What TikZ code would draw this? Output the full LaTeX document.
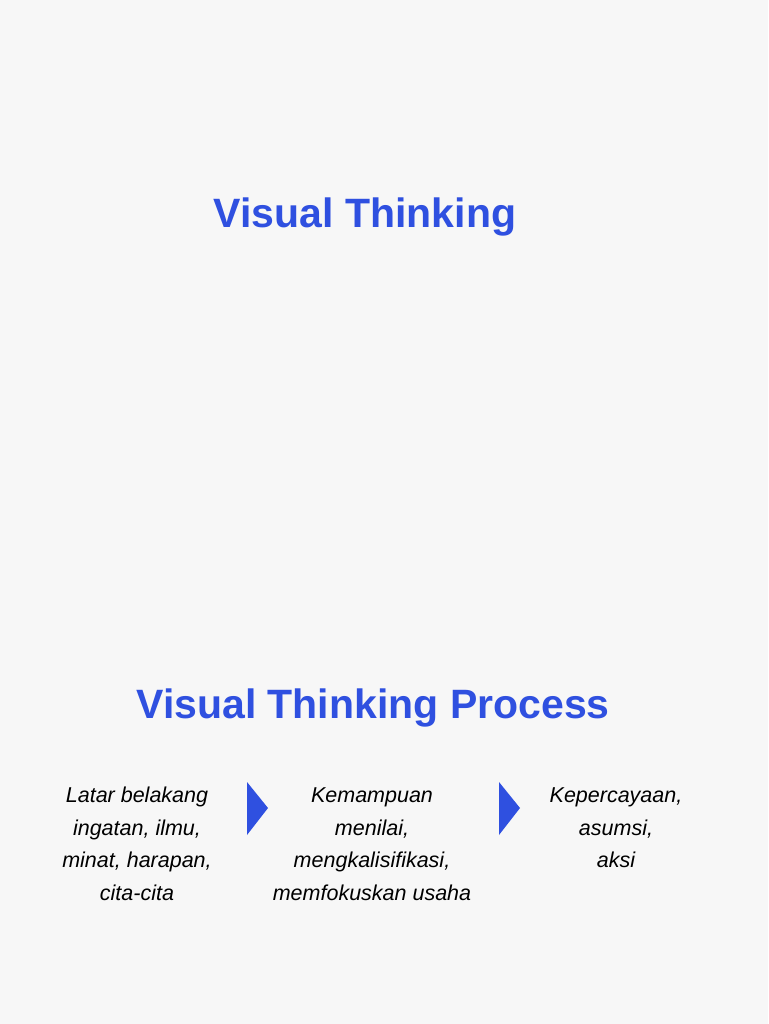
\documentclass[tikz,border=0pt]{standalone}
\usepackage{fontspec}
\setmainfont{Liberation Sans}
\definecolor{tblue}{HTML}{2F50E0}
\begin{document}
\begin{tikzpicture}[x=1pt,y=-1pt,
  ttl/.style={text=tblue,font=\fontsize{41}{48}\selectfont\bfseries},
  body/.style={align=center,font=\fontsize{21.5}{32.5}\selectfont\itshape,inner sep=0},
  tri/.style={fill=tblue,draw=none}]
\fill[white!97!black] (0,0) rectangle (768,1024);
\useasboundingbox (0,0) rectangle (768,1024);
\node[ttl] (t1) at (365,217) {Visual Thinking};
\node[ttl] (t2) at (373,708) {Visual Thinking Process};
\node[body] (a) at (137,844) {Latar belakang\\ingatan, ilmu,\\minat, harapan,\\cita-cita};
\node[body] (b) at (372,844) {Kemampuan\\menilai,\\mengkalisifikasi,\\memfokuskan usaha};
\node[body] (c) at (616,828) {Kepercayaan,\\asumsi,\\aksi};
\fill[tri] (247,782) -- (268,808) -- (247,835) -- cycle;
\fill[tri] (499,782) -- (520,808) -- (499,835) -- cycle;
\end{tikzpicture}
\end{document}
